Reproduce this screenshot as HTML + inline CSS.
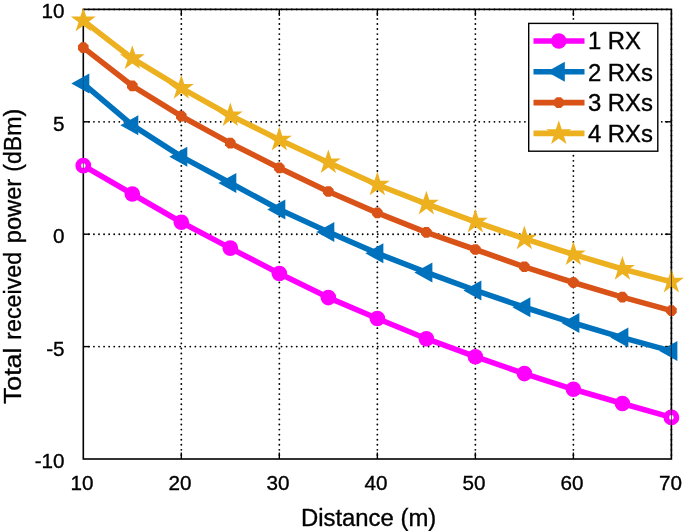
<!DOCTYPE html>
<html lang="en"><head><meta charset="utf-8"><title>Total received power vs distance</title>
<style>html,body{margin:0;padding:0;background:#fff}body{width:685px;height:531px;overflow:hidden}svg{display:block}text{font-family:"Liberation Sans",Arial,Helvetica,sans-serif;fill:#000;stroke:#000;stroke-width:0.35px}.tk{font-size:20.7px}.lb{font-size:23.9px}.lg{font-size:23.9px}.yl text{font-size:24.2px}</style></head><body>
<svg width="685" height="531" viewBox="0 0 685 531">
<rect width="685" height="531" fill="#fff"/>
<g stroke="#000" stroke-width="1.85" stroke-dasharray="0.01 5.06" stroke-linecap="round" fill="none">
<line x1="181.32" y1="459.00" x2="181.32" y2="9.40" stroke-dashoffset="1.0"/>
<line x1="279.33" y1="459.00" x2="279.33" y2="9.40" stroke-dashoffset="1.0"/>
<line x1="377.35" y1="459.00" x2="377.35" y2="9.40" stroke-dashoffset="1.0"/>
<line x1="475.37" y1="459.00" x2="475.37" y2="9.40" stroke-dashoffset="1.0"/>
<line x1="573.38" y1="459.00" x2="573.38" y2="9.40" stroke-dashoffset="1.0"/>
<line x1="671.40" y1="459.00" x2="671.40" y2="9.40" stroke-dashoffset="1.0"/>
<line x1="83.30" y1="346.60" x2="671.40" y2="346.60" stroke-dashoffset="-0.5"/>
<line x1="83.30" y1="234.20" x2="671.40" y2="234.20" stroke-dashoffset="-0.5"/>
<line x1="83.30" y1="121.80" x2="671.40" y2="121.80" stroke-dashoffset="-0.5"/>
<line x1="83.30" y1="9.40" x2="671.40" y2="9.40" stroke-dashoffset="-0.5"/>
</g>
<rect x="83.30" y="9.40" width="588.10" height="449.60" fill="none" stroke="#000" stroke-width="1.6"/>
<g stroke="#000" stroke-width="1.4">
<line x1="181.32" y1="459.00" x2="181.32" y2="452.50"/>
<line x1="181.32" y1="9.40" x2="181.32" y2="15.90"/>
<line x1="279.33" y1="459.00" x2="279.33" y2="452.50"/>
<line x1="279.33" y1="9.40" x2="279.33" y2="15.90"/>
<line x1="377.35" y1="459.00" x2="377.35" y2="452.50"/>
<line x1="377.35" y1="9.40" x2="377.35" y2="15.90"/>
<line x1="475.37" y1="459.00" x2="475.37" y2="452.50"/>
<line x1="475.37" y1="9.40" x2="475.37" y2="15.90"/>
<line x1="573.38" y1="459.00" x2="573.38" y2="452.50"/>
<line x1="573.38" y1="9.40" x2="573.38" y2="15.90"/>
<line x1="83.30" y1="346.60" x2="89.80" y2="346.60"/>
<line x1="671.40" y1="346.60" x2="664.90" y2="346.60"/>
<line x1="83.30" y1="234.20" x2="89.80" y2="234.20"/>
<line x1="671.40" y1="234.20" x2="664.90" y2="234.20"/>
<line x1="83.30" y1="121.80" x2="89.80" y2="121.80"/>
<line x1="671.40" y1="121.80" x2="664.90" y2="121.80"/>
</g>
<g fill="#FF00FF">
<polyline points="83.30,165.64 132.31,193.96 181.32,222.29 230.32,248.14 279.33,273.54 328.34,297.59 377.35,318.50 426.36,338.73 475.37,356.72 524.38,373.58 573.38,389.31 622.39,403.47 671.40,417.41" fill="none" stroke="#FF00FF" stroke-width="5.6" stroke-linejoin="round"/>
<circle cx="83.30" cy="165.64" r="5.1" fill="#fff" stroke="#FF00FF" stroke-width="5.6"/>
<circle cx="132.31" cy="193.96" r="7.8"/>
<circle cx="181.32" cy="222.29" r="7.8"/>
<circle cx="230.32" cy="248.14" r="7.8"/>
<circle cx="279.33" cy="273.54" r="7.8"/>
<circle cx="328.34" cy="297.59" r="7.8"/>
<circle cx="377.35" cy="318.50" r="7.8"/>
<circle cx="426.36" cy="338.73" r="7.8"/>
<circle cx="475.37" cy="356.72" r="7.8"/>
<circle cx="524.38" cy="373.58" r="7.8"/>
<circle cx="573.38" cy="389.31" r="7.8"/>
<circle cx="622.39" cy="403.47" r="7.8"/>
<circle cx="671.40" cy="417.41" r="5.1" fill="#fff" stroke="#FF00FF" stroke-width="5.6"/>
</g>
<g fill="#0072BD">
<polyline points="83.30,83.58 132.31,125.17 181.32,156.64 230.32,182.95 279.33,209.47 328.34,231.95 377.35,253.31 426.36,272.42 475.37,290.40 524.38,307.26 573.38,323.00 622.39,337.61 671.40,351.10" fill="none" stroke="#0072BD" stroke-width="5.6" stroke-linejoin="round"/>
<polygon points="71.30,83.58 89.30,73.58 89.30,93.58"/>
<polygon points="120.31,125.17 138.31,115.17 138.31,135.17"/>
<polygon points="169.32,156.64 187.32,146.64 187.32,166.64"/>
<polygon points="218.32,182.95 236.32,172.95 236.32,192.95"/>
<polygon points="267.33,209.47 285.33,199.47 285.33,219.47"/>
<polygon points="316.34,231.95 334.34,221.95 334.34,241.95"/>
<polygon points="365.35,253.31 383.35,243.31 383.35,263.31"/>
<polygon points="414.36,272.42 432.36,262.42 432.36,282.42"/>
<polygon points="463.37,290.40 481.37,280.40 481.37,300.40"/>
<polygon points="512.38,307.26 530.38,297.26 530.38,317.26"/>
<polygon points="561.38,323.00 579.38,313.00 579.38,333.00"/>
<polygon points="610.39,337.61 628.39,327.61 628.39,347.61"/>
<polygon points="659.40,351.10 677.40,341.10 677.40,361.10"/>
</g>
<g fill="#D95319">
<polyline points="83.30,47.62 132.31,85.83 181.32,116.18 230.32,143.16 279.33,167.88 328.34,191.49 377.35,212.84 426.36,232.40 475.37,249.49 524.38,266.80 573.38,282.53 622.39,297.14 671.40,310.63" fill="none" stroke="#D95319" stroke-width="5.6" stroke-linejoin="round"/>
<polygon points="88.61,49.82 85.50,52.93 81.10,52.93 77.99,49.82 77.99,45.42 81.10,42.30 85.50,42.30 88.61,45.42"/>
<polygon points="137.62,88.03 134.51,91.14 130.11,91.14 127.00,88.03 127.00,83.63 130.11,80.52 134.51,80.52 137.62,83.63"/>
<polygon points="186.63,118.38 183.52,121.49 179.12,121.49 176.00,118.38 176.00,113.98 179.12,110.87 183.52,110.87 186.63,113.98"/>
<polygon points="235.64,145.36 232.53,148.47 228.12,148.47 225.01,145.36 225.01,140.96 228.12,137.84 232.53,137.84 235.64,140.96"/>
<polygon points="284.65,170.08 281.53,173.20 277.13,173.20 274.02,170.08 274.02,165.68 277.13,162.57 281.53,162.57 284.65,165.68"/>
<polygon points="333.65,193.69 330.54,196.80 326.14,196.80 323.03,193.69 323.03,189.29 326.14,186.18 330.54,186.18 333.65,189.29"/>
<polygon points="382.66,215.04 379.55,218.16 375.15,218.16 372.04,215.04 372.04,210.64 375.15,207.53 379.55,207.53 382.66,210.64"/>
<polygon points="431.67,234.60 428.56,237.71 424.16,237.71 421.05,234.60 421.05,230.20 424.16,227.09 428.56,227.09 431.67,230.20"/>
<polygon points="480.68,251.69 477.57,254.80 473.17,254.80 470.05,251.69 470.05,247.29 473.17,244.17 477.57,244.17 480.68,247.29"/>
<polygon points="529.69,269.00 526.58,272.11 522.17,272.11 519.06,269.00 519.06,264.60 522.17,261.48 526.58,261.48 529.69,264.60"/>
<polygon points="578.70,284.73 575.58,287.84 571.18,287.84 568.07,284.73 568.07,280.33 571.18,277.22 575.58,277.22 578.70,280.33"/>
<polygon points="627.70,299.34 624.59,302.46 620.19,302.46 617.08,299.34 617.08,294.94 620.19,291.83 624.59,291.83 627.70,294.94"/>
<polygon points="676.71,312.83 673.60,315.94 669.20,315.94 666.09,312.83 666.09,308.43 669.20,305.32 673.60,305.32 676.71,308.43"/>
</g>
<g fill="#EDB120">
<polyline points="83.30,20.64 132.31,58.41 181.32,88.08 230.32,115.51 279.33,139.78 328.34,162.49 377.35,184.74 426.36,203.85 475.37,221.84 524.38,238.70 573.38,254.43 622.39,269.04 671.40,281.86" fill="none" stroke="#EDB120" stroke-width="5.6" stroke-linejoin="round"/>
<polygon points="83.30,7.54 86.24,16.59 95.76,16.59 88.06,22.19 91.00,31.24 83.30,25.64 75.60,31.24 78.54,22.19 70.84,16.59 80.36,16.59"/>
<polygon points="132.31,45.31 135.25,54.36 144.77,54.36 137.07,59.95 140.01,69.00 132.31,63.41 124.61,69.00 127.55,59.95 119.85,54.36 129.37,54.36"/>
<polygon points="181.32,74.98 184.26,84.03 193.78,84.03 186.08,89.63 189.02,98.68 181.32,93.08 173.62,98.68 176.56,89.63 168.86,84.03 178.38,84.03"/>
<polygon points="230.32,102.41 233.27,111.46 242.78,111.46 235.08,117.05 238.02,126.10 230.32,120.51 222.63,126.10 225.57,117.05 217.87,111.46 227.38,111.46"/>
<polygon points="279.33,126.68 282.27,135.74 291.79,135.74 284.09,141.33 287.03,150.38 279.33,144.79 271.63,150.38 274.57,141.33 266.87,135.74 276.39,135.74"/>
<polygon points="328.34,149.39 331.28,158.44 340.80,158.44 333.10,164.04 336.04,173.09 328.34,167.49 320.64,173.09 323.58,164.04 315.88,158.44 325.40,158.44"/>
<polygon points="377.35,171.64 380.29,180.70 389.81,180.70 382.11,186.29 385.05,195.34 377.35,189.75 369.65,195.34 372.59,186.29 364.89,180.70 374.41,180.70"/>
<polygon points="426.36,190.75 429.30,199.80 438.82,199.80 431.12,205.40 434.06,214.45 426.36,208.86 418.66,214.45 421.60,205.40 413.90,199.80 423.42,199.80"/>
<polygon points="475.37,208.74 478.31,217.79 487.83,217.79 480.13,223.38 483.07,232.43 475.37,226.84 467.67,232.43 470.61,223.38 462.91,217.79 472.43,217.79"/>
<polygon points="524.38,225.60 527.32,234.65 536.83,234.65 529.13,240.24 532.07,249.29 524.38,243.70 516.68,249.29 519.62,240.24 511.92,234.65 521.43,234.65"/>
<polygon points="573.38,241.33 576.32,250.38 585.84,250.38 578.14,255.98 581.08,265.03 573.38,259.44 565.68,265.03 568.62,255.98 560.92,250.38 570.44,250.38"/>
<polygon points="622.39,255.94 625.33,265.00 634.85,265.00 627.15,270.59 630.09,279.64 622.39,274.05 614.69,279.64 617.63,270.59 609.93,265.00 619.45,265.00"/>
<polygon points="671.40,268.76 674.34,277.81 683.86,277.81 676.16,283.40 679.10,292.46 671.40,286.86 663.70,292.46 666.64,283.40 658.94,277.81 668.46,277.81"/>
</g>
<g stroke="#000" stroke-width="0.9" opacity="0.7">
<line x1="671.40" y1="9.40" x2="671.40" y2="459.00"/>
<line x1="83.30" y1="9.40" x2="671.40" y2="9.40"/>
<line x1="83.30" y1="162.84" x2="83.30" y2="168.44"/>
<line x1="83.30" y1="77.58" x2="83.30" y2="89.58" opacity="0.4"/>
</g>
<text class="tk" text-anchor="end" transform="translate(64.60,17.70) scale(1,0.970)">10</text>
<text class="tk" text-anchor="end" transform="translate(64.60,131.20) scale(1,0.970)">5</text>
<text class="tk" text-anchor="end" transform="translate(64.60,242.60) scale(1,0.970)">0</text>
<text class="tk" text-anchor="end" transform="translate(64.60,355.50) scale(1,0.970)">-5</text>
<text class="tk" text-anchor="end" transform="translate(64.60,467.60) scale(1,0.970)">-10</text>
<text class="tk" text-anchor="middle" transform="translate(82.00,489.80) scale(1,0.970)">10</text>
<text class="tk" text-anchor="middle" transform="translate(180.02,489.80) scale(1,0.970)">20</text>
<text class="tk" text-anchor="middle" transform="translate(278.03,489.80) scale(1,0.970)">30</text>
<text class="tk" text-anchor="middle" transform="translate(376.05,489.80) scale(1,0.970)">40</text>
<text class="tk" text-anchor="middle" transform="translate(474.07,489.80) scale(1,0.970)">50</text>
<text class="tk" text-anchor="middle" transform="translate(572.08,489.80) scale(1,0.970)">60</text>
<text class="tk" text-anchor="middle" transform="translate(670.60,489.80) scale(1,0.970)">70</text>
<text class="lb" text-anchor="middle" transform="translate(368.60,525.60) scale(1,0.970)">Distance (m)</text>
<g class="yl" transform="translate(21,0) rotate(-90)">
<text x="-404.10" y="0" textLength="56.50" lengthAdjust="spacingAndGlyphs">Total</text>
<text x="-339.70" y="0" textLength="87.90" lengthAdjust="spacingAndGlyphs">received</text>
<text x="-243.20" y="0" textLength="64.40" lengthAdjust="spacingAndGlyphs">power</text>
<text x="-171.70" y="0" textLength="62.90" lengthAdjust="spacingAndGlyphs">(dBm)</text>
</g>
<rect x="528.7" y="23.4" width="129.1" height="127.8" fill="#fff" stroke="#000" stroke-width="1.4"/>
<g fill="#FF00FF">
<line x1="533.5" y1="41.00" x2="584.5" y2="41.00" stroke="#FF00FF" stroke-width="5.6"/>
<circle cx="558.80" cy="41.00" r="7.8"/>
</g>
<text class="lg" text-anchor="start" transform="translate(587.90,49.10) scale(1,0.970)">1 RX</text>
<g fill="#0072BD">
<line x1="533.5" y1="71.80" x2="584.5" y2="71.80" stroke="#0072BD" stroke-width="5.6"/>
<polygon points="546.80,71.80 564.80,61.80 564.80,81.80"/>
</g>
<text class="lg" text-anchor="start" transform="translate(587.90,80.70) scale(1,0.970)">2 RXs</text>
<g fill="#D95319">
<line x1="533.5" y1="102.60" x2="584.5" y2="102.60" stroke="#D95319" stroke-width="5.6"/>
<polygon points="564.11,104.80 561.00,107.91 556.60,107.91 553.49,104.80 553.49,100.40 556.60,97.29 561.00,97.29 564.11,100.40"/>
</g>
<text class="lg" text-anchor="start" transform="translate(587.90,110.90) scale(1,0.970)">3 RXs</text>
<g fill="#EDB120">
<line x1="533.5" y1="133.40" x2="584.5" y2="133.40" stroke="#EDB120" stroke-width="5.6"/>
<polygon points="558.80,120.30 561.74,129.35 571.26,129.35 563.56,134.95 566.50,144.00 558.80,138.40 551.10,144.00 554.04,134.95 546.34,129.35 555.86,129.35"/>
</g>
<text class="lg" text-anchor="start" transform="translate(587.90,142.20) scale(1,0.970)">4 RXs</text>
</svg></body></html>
